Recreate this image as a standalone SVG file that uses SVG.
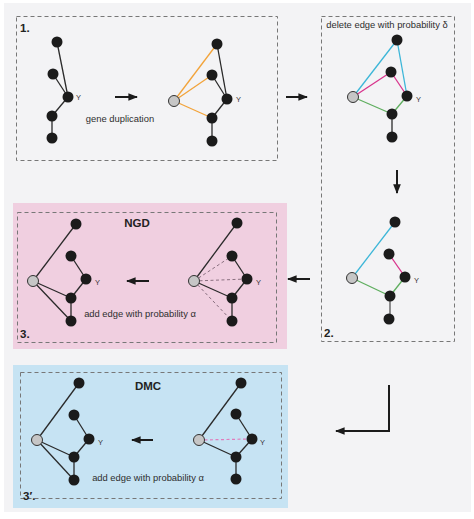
<svg xmlns="http://www.w3.org/2000/svg" width="474" height="519" viewBox="0 0 474 519">
<defs>
<style>
.bg{fill:#f3f3f5}
.frame{fill:none;stroke:#777;stroke-width:1;stroke-dasharray:4 3}
.e{stroke:#2a2a2a;stroke-width:1.3;fill:none}
.or{stroke:#f2a33a;stroke-width:1.3}
.cy{stroke:#3cb6d8;stroke-width:1.3}
.mg{stroke:#d8338c;stroke-width:1.3}
.gr{stroke:#5fae5f;stroke-width:1.3}
.dsh{stroke:#8a7080;stroke-width:1;stroke-dasharray:3 2.5}
.dshp{stroke:#e07cbc;stroke-width:1.2;stroke-dasharray:3 2.5}
.n{fill:#1b1b1b}
.g{fill:#c6c6c6;stroke:#333;stroke-width:1}
.t{font-family:"Liberation Sans",Arial,sans-serif;font-size:9.4px;fill:#2e2e2e}
.y{font-family:"Liberation Sans",Arial,sans-serif;font-size:7.5px;fill:#333}
.b{font-family:"Liberation Sans",Arial,sans-serif;font-size:11.5px;font-weight:bold;fill:#222}
.arr{stroke:#1b1b1b;stroke-width:2;fill:none}
</style>
<marker id="ah" viewBox="0 0 10 10" refX="9" refY="5" markerWidth="4.8" markerHeight="4.8" orient="auto" markerUnits="strokeWidth">
<path d="M0,1 L10,5 L0,9 Z" fill="#1b1b1b"/>
</marker>
</defs>
<rect width="474" height="519" fill="#ffffff"/>
<rect class="bg" x="4" y="3" width="467" height="509"/>
<rect x="13" y="203" width="274" height="146" fill="#f0cfe0"/>
<rect x="13" y="365" width="275" height="143" fill="#c6e3f3"/>

<g id="panel1">
<rect class="frame" x="16.5" y="16.5" width="261" height="144"/>
<text class="b" x="20" y="32">1.</text>
<g class="e">
<line x1="57" y1="42" x2="68" y2="97"/>
<line x1="53" y1="74" x2="68" y2="97"/>
<line x1="68" y1="97" x2="52" y2="116"/>
<line x1="52" y1="116" x2="52" y2="138"/>
</g>
<circle class="n" cx="57" cy="42" r="5.5"/>
<circle class="n" cx="53" cy="74" r="5.5"/>
<circle class="n" cx="68" cy="97" r="5.5"/>
<circle class="n" cx="52" cy="116" r="5.5"/>
<circle class="n" cx="52" cy="138" r="5.5"/>
<text class="y" x="76" y="100">Y</text>
<text class="t" x="120" y="122" text-anchor="middle">gene duplication</text>
<g class="or">
<line x1="174" y1="101" x2="217" y2="44"/>
<line x1="174" y1="101" x2="212" y2="75"/>
<line x1="174" y1="101" x2="212" y2="118"/>
</g>
<g class="e">
<line x1="217" y1="44" x2="227" y2="99"/>
<line x1="212" y1="75" x2="227" y2="99"/>
<line x1="227" y1="99" x2="212" y2="118"/>
<line x1="212" y1="118" x2="212" y2="141"/>
</g>
<circle class="n" cx="217" cy="44" r="5.5"/>
<circle class="n" cx="212" cy="75" r="5.5"/>
<circle class="n" cx="227" cy="99" r="5.5"/>
<circle class="n" cx="212" cy="118" r="5.5"/>
<circle class="n" cx="212" cy="141" r="5.5"/>
<circle class="g" cx="174" cy="101" r="5.5"/>
<text class="y" x="236" y="102">Y</text>
</g>

<g id="panel2">
<rect class="frame" x="321.5" y="16.5" width="133" height="325"/>
<text class="t" x="387" y="28" text-anchor="middle">delete edge with probability δ</text>
<line class="cy" x1="353" y1="97" x2="397" y2="40"/>
<line class="cy" x1="397" y1="40" x2="407" y2="96"/>
<line class="mg" x1="353" y1="97" x2="391" y2="72"/>
<line class="mg" x1="391" y1="72" x2="407" y2="96"/>
<line class="gr" x1="353" y1="97" x2="392" y2="114"/>
<line class="gr" x1="407" y1="96" x2="392" y2="114"/>
<line class="e" x1="392" y1="114" x2="392" y2="137"/>
<circle class="n" cx="397" cy="40" r="5.5"/>
<circle class="n" cx="391" cy="72" r="5.5"/>
<circle class="n" cx="407" cy="96" r="5.5"/>
<circle class="n" cx="392" cy="114" r="5.5"/>
<circle class="n" cx="392" cy="137" r="5.5"/>
<circle class="g" cx="353" cy="97" r="5.5"/>
<text class="y" x="416" y="102">Y</text>
<line class="cy" x1="352" y1="278" x2="395" y2="222"/>
<line class="mg" x1="389" y1="254" x2="405" y2="277"/>
<line class="gr" x1="352" y1="278" x2="390" y2="296"/>
<line class="gr" x1="405" y1="277" x2="390" y2="296"/>
<line class="e" x1="390" y1="296" x2="390" y2="319" style="stroke:#555"/>
<circle class="n" cx="395" cy="222" r="5.5"/>
<circle class="n" cx="389" cy="254" r="5.5"/>
<circle class="n" cx="405" cy="277" r="5.5"/>
<circle class="n" cx="390" cy="296" r="5.5"/>
<circle class="n" cx="389" cy="319" r="5.5"/>
<circle class="g" cx="352" cy="278" r="5.5"/>
<text class="y" x="414" y="283">Y</text>
<text class="b" x="324" y="337">2.</text>
</g>

<g id="panel3">
<rect class="frame" x="17.5" y="212.5" width="259" height="130"/>
<text class="b" x="137" y="227" text-anchor="middle">NGD</text>
<text class="b" x="20" y="338">3.</text>
<g class="e">
<line x1="33" y1="281" x2="76" y2="224"/>
<line x1="71" y1="256" x2="86" y2="279"/>
<line x1="86" y1="279" x2="71" y2="298"/>
<line x1="71" y1="298" x2="71" y2="321"/>
<line x1="33" y1="281" x2="71" y2="298"/>
<line x1="33" y1="281" x2="71" y2="321"/>
</g>
<circle class="n" cx="76" cy="224" r="5.5"/>
<circle class="n" cx="71" cy="256" r="5.5"/>
<circle class="n" cx="86" cy="279" r="5.5"/>
<circle class="n" cx="71" cy="298" r="5.5"/>
<circle class="n" cx="71" cy="321" r="5.5"/>
<circle class="g" cx="33" cy="281" r="5.5"/>
<text class="y" x="95" y="285">Y</text>
<text class="t" x="140" y="317" text-anchor="middle">add edge with probability α</text>
<g class="dsh">
<line x1="194" y1="281" x2="232" y2="256"/>
<line x1="194" y1="281" x2="247" y2="279"/>
<line x1="194" y1="281" x2="232" y2="321"/>
</g>
<g class="e">
<line x1="194" y1="281" x2="237" y2="223"/>
<line x1="232" y1="256" x2="247" y2="279"/>
<line x1="247" y1="279" x2="232" y2="298"/>
<line x1="232" y1="298" x2="232" y2="321"/>
<line x1="194" y1="281" x2="232" y2="298"/>
</g>
<circle class="n" cx="237" cy="223" r="5.5"/>
<circle class="n" cx="232" cy="256" r="5.5"/>
<circle class="n" cx="247" cy="279" r="5.5"/>
<circle class="n" cx="232" cy="298" r="5.5"/>
<circle class="n" cx="232" cy="321" r="5.5"/>
<circle class="g" cx="194" cy="281" r="5.5"/>
<text class="y" x="256" y="285">Y</text>
</g>

<g id="panel3b">
<rect class="frame" x="20.5" y="372.5" width="261" height="126"/>
<text class="b" x="148" y="390" text-anchor="middle">DMC</text>
<text class="b" x="23" y="500">3′.</text>
<g class="e">
<line x1="37" y1="440" x2="79" y2="383"/>
<line x1="74" y1="415" x2="89" y2="439"/>
<line x1="89" y1="439" x2="74" y2="457"/>
<line x1="74" y1="457" x2="74" y2="480"/>
<line x1="37" y1="440" x2="74" y2="457"/>
<line x1="37" y1="440" x2="74" y2="480"/>
</g>
<circle class="n" cx="79" cy="383" r="5.5"/>
<circle class="n" cx="74" cy="415" r="5.5"/>
<circle class="n" cx="89" cy="439" r="5.5"/>
<circle class="n" cx="74" cy="457" r="5.5"/>
<circle class="n" cx="74" cy="480" r="5.5"/>
<circle class="g" cx="37" cy="440" r="5.5"/>
<text class="y" x="98" y="445">Y</text>
<text class="t" x="148" y="481" text-anchor="middle">add edge with probability α</text>
<line class="dshp" x1="199" y1="440" x2="252" y2="439"/>
<g class="e">
<line x1="199" y1="440" x2="241" y2="383"/>
<line x1="236" y1="414" x2="252" y2="439"/>
<line x1="252" y1="439" x2="236" y2="457"/>
<line x1="236" y1="457" x2="236" y2="479"/>
<line x1="199" y1="440" x2="236" y2="457"/>
</g>
<circle class="n" cx="241" cy="383" r="5.5"/>
<circle class="n" cx="236" cy="414" r="5.5"/>
<circle class="n" cx="252" cy="439" r="5.5"/>
<circle class="n" cx="236" cy="457" r="5.5"/>
<circle class="n" cx="236" cy="479" r="5.5"/>
<circle class="g" cx="199" cy="440" r="5.5"/>
<text class="y" x="260" y="445">Y</text>
</g>

<g id="connectors">
<line class="arr" x1="115" y1="97" x2="137" y2="97" marker-end="url(#ah)"/>
<line class="arr" x1="286" y1="97" x2="307" y2="97" marker-end="url(#ah)"/>
<line class="arr" x1="397" y1="170" x2="397" y2="193" marker-end="url(#ah)"/>
<line class="arr" x1="310" y1="279" x2="288" y2="279" marker-end="url(#ah)"/>
<line class="arr" x1="149" y1="281" x2="127" y2="281" marker-end="url(#ah)"/>
<line class="arr" x1="153" y1="440" x2="132" y2="440" marker-end="url(#ah)"/>
<polyline class="arr" points="389,385 389,431 336,431" marker-end="url(#ah)"/>
</g>
</svg>
